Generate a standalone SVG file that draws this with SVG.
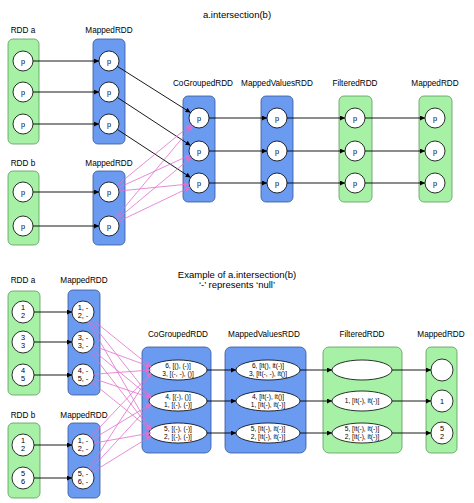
<svg xmlns="http://www.w3.org/2000/svg" width="474" height="503" viewBox="0 0 474 503">
<defs>
<style>
.g{fill:#a6f1a6;stroke:#5c9a5c;stroke-width:0.8}
.b{fill:#6b9bf0;stroke:#36579a;stroke-width:0.8}
.c{fill:#fff;stroke:#000;stroke-width:0.8}
.t{font-family:"Liberation Sans",Arial,sans-serif;fill:#000;text-anchor:middle}
.lb{font-size:8.2px}
.tt{font-size:9.5px}
.p{font-size:7.4px}
.e{font-size:6.6px}
.a{stroke:#000;stroke-width:0.9;fill:none;marker-end:url(#ab)}
.k{stroke:#e070cc;stroke-width:0.8;fill:none;marker-end:url(#ak)}
</style>
<marker id="ab" viewBox="0 0 10 10" refX="10" refY="5" markerWidth="6" markerHeight="5" markerUnits="userSpaceOnUse" orient="auto"><path d="M0,0L10,5L0,10z" fill="#000"/></marker>
<marker id="ak" viewBox="0 0 10 10" refX="10" refY="5" markerWidth="6" markerHeight="5" markerUnits="userSpaceOnUse" orient="auto"><path d="M0,0L10,5L0,10z" fill="#e070cc"/></marker>
</defs>
<rect width="474" height="503" fill="#fff"/>

<text class="t tt" x="237" y="18">a.intersection(b)</text>
<text class="t tt" x="237" y="278">Example of a.intersection(b)</text>
<text class="t tt" x="237" y="288">‘-’ represents ‘null’</text>

<!-- TOP SECTION -->
<g id="top-rdd-a">
<text class="t lb" x="23" y="33">RDD a</text>
<rect class="g" x="8" y="39" width="31" height="105" rx="5"/>
<circle class="c" cx="23" cy="61" r="10"/><text class="t p" x="23" y="63.5">p</text>
<circle class="c" cx="23" cy="92" r="10"/><text class="t p" x="23" y="94.5">p</text>
<circle class="c" cx="23" cy="124" r="10"/><text class="t p" x="23" y="126.5">p</text>
</g>
<g id="top-mapped-a">
<text class="t lb" x="109" y="33">MappedRDD</text>
<rect class="b" x="93" y="39" width="32" height="105" rx="5"/>
<circle class="c" cx="109" cy="61" r="10"/><text class="t p" x="109" y="63.5">p</text>
<circle class="c" cx="109" cy="92" r="10"/><text class="t p" x="109" y="94.5">p</text>
<circle class="c" cx="109" cy="124" r="10"/><text class="t p" x="109" y="126.5">p</text>
</g>
<g id="top-rdd-b">
<text class="t lb" x="23" y="166">RDD b</text>
<rect class="g" x="8" y="171" width="31" height="74" rx="5"/>
<circle class="c" cx="23" cy="192" r="10"/><text class="t p" x="23" y="194.5">p</text>
<circle class="c" cx="23" cy="226" r="10"/><text class="t p" x="23" y="228.5">p</text>
</g>
<g id="top-mapped-b">
<text class="t lb" x="109" y="166">MappedRDD</text>
<rect class="b" x="93" y="171" width="32" height="74" rx="5"/>
<circle class="c" cx="109" cy="192" r="10"/><text class="t p" x="109" y="194.5">p</text>
<circle class="c" cx="109" cy="226" r="10"/><text class="t p" x="109" y="228.5">p</text>
</g>
<g id="top-cogrouped">
<text class="t lb" x="203" y="86">CoGroupedRDD</text>
<rect class="b" x="183" y="96" width="32" height="106" rx="5"/>
<circle class="c" cx="199" cy="118" r="10"/><text class="t p" x="199" y="120.5">p</text>
<circle class="c" cx="199" cy="151" r="10"/><text class="t p" x="199" y="153.5">p</text>
<circle class="c" cx="199" cy="183" r="10"/><text class="t p" x="199" y="185.5">p</text>
</g>
<g id="top-mappedvalues">
<text class="t lb" x="277" y="86">MappedValuesRDD</text>
<rect class="b" x="261" y="96" width="32" height="106" rx="5"/>
<circle class="c" cx="277" cy="118" r="10"/><text class="t p" x="277" y="120.5">p</text>
<circle class="c" cx="277" cy="151" r="10"/><text class="t p" x="277" y="153.5">p</text>
<circle class="c" cx="277" cy="183" r="10"/><text class="t p" x="277" y="185.5">p</text>
</g>
<g id="top-filtered">
<text class="t lb" x="355" y="86">FilteredRDD</text>
<rect class="g" x="339" y="96" width="33" height="106" rx="5"/>
<circle class="c" cx="355" cy="118" r="10"/><text class="t p" x="355" y="120.5">p</text>
<circle class="c" cx="355" cy="151" r="10"/><text class="t p" x="355" y="153.5">p</text>
<circle class="c" cx="355" cy="183" r="10"/><text class="t p" x="355" y="185.5">p</text>
</g>
<g id="top-mapped-out">
<text class="t lb" x="435" y="86">MappedRDD</text>
<rect class="g" x="419" y="96" width="33" height="106" rx="5"/>
<circle class="c" cx="435" cy="118" r="10"/><text class="t p" x="435" y="120.5">p</text>
<circle class="c" cx="435" cy="151" r="10"/><text class="t p" x="435" y="153.5">p</text>
<circle class="c" cx="435" cy="183" r="10"/><text class="t p" x="435" y="185.5">p</text>
</g>

<!-- BOTTOM SECTION -->
<g id="bot-rdd-a">
<text class="t lb" x="23" y="283">RDD a</text>
<rect class="g" x="8" y="291" width="32" height="104" rx="5"/>
<circle class="c" cx="23" cy="312" r="11"/><text class="t p" x="23" y="310">1</text><text class="t p" x="23" y="318">2</text>
<circle class="c" cx="23" cy="342" r="11"/><text class="t p" x="23" y="340">3</text><text class="t p" x="23" y="348">3</text>
<circle class="c" cx="23" cy="375" r="11"/><text class="t p" x="23" y="373">4</text><text class="t p" x="23" y="381">5</text>
</g>
<g id="bot-mapped-a">
<text class="t lb" x="84" y="283">MappedRDD</text>
<rect class="b" x="68" y="290" width="32" height="105" rx="5"/>
<circle class="c" cx="83" cy="312" r="11"/><text class="t p" x="83" y="310">1, -</text><text class="t p" x="83" y="318">2, -</text>
<circle class="c" cx="83" cy="342" r="11"/><text class="t p" x="83" y="340">3, -</text><text class="t p" x="83" y="348">3, -</text>
<circle class="c" cx="83" cy="375" r="11"/><text class="t p" x="83" y="373">4, -</text><text class="t p" x="83" y="381">5, -</text>
</g>
<g id="bot-rdd-b">
<text class="t lb" x="23" y="418">RDD b</text>
<rect class="g" x="8" y="423" width="32" height="75" rx="5"/>
<circle class="c" cx="23" cy="445" r="11"/><text class="t p" x="23" y="443">1</text><text class="t p" x="23" y="451">2</text>
<circle class="c" cx="23" cy="478" r="11"/><text class="t p" x="23" y="476">5</text><text class="t p" x="23" y="484">6</text>
</g>
<g id="bot-mapped-b">
<text class="t lb" x="84" y="418">MappedRDD</text>
<rect class="b" x="68" y="423" width="32" height="75" rx="5"/>
<circle class="c" cx="83" cy="445" r="11"/><text class="t p" x="83" y="443">1, -</text><text class="t p" x="83" y="451">2, -</text>
<circle class="c" cx="83" cy="478" r="11"/><text class="t p" x="83" y="476">5, -</text><text class="t p" x="83" y="484">6, -</text>
</g>
<g id="bot-cogrouped">
<text class="t lb" x="178" y="337">CoGroupedRDD</text>
<rect class="b" x="142" y="347" width="69" height="106" rx="6"/>
<ellipse class="c" cx="178" cy="370" rx="29" ry="10"/><text class="t e" x="178" y="368">6, [(), (-)]</text><text class="t e" x="178" y="375.5">3, [(-, -), ()]</text>
<ellipse class="c" cx="178" cy="401" rx="29" ry="10"/><text class="t e" x="178" y="399">4, [(-), ()]</text><text class="t e" x="178" y="406.5">1, [(-), (-)]</text>
<ellipse class="c" cx="178" cy="433" rx="29" ry="10"/><text class="t e" x="178" y="431">5, [(-), (-)]</text><text class="t e" x="178" y="438.5">2, [(-), (-)]</text>
</g>
<g id="bot-mappedvalues">
<text class="t lb" x="264" y="337">MappedValuesRDD</text>
<rect class="b" x="225" y="347" width="81" height="106" rx="6"/>
<ellipse class="c" cx="268" cy="370" rx="32" ry="10"/><text class="t e" x="268" y="368">6, [it(), it(-)]</text><text class="t e" x="268" y="375.5">3, [it(-, -), it()]</text>
<ellipse class="c" cx="268" cy="401" rx="32" ry="10"/><text class="t e" x="268" y="399">4, [it(-), it()]</text><text class="t e" x="268" y="406.5">1, [it(-), it(-)]</text>
<ellipse class="c" cx="268" cy="433" rx="32" ry="10"/><text class="t e" x="268" y="431">5, [it(-), it(-)]</text><text class="t e" x="268" y="438.5">2, [it(-), it(-)]</text>
</g>
<g id="bot-filtered">
<text class="t lb" x="362" y="337">FilteredRDD</text>
<rect class="g" x="323" y="347" width="79" height="106" rx="6"/>
<ellipse class="c" cx="362" cy="370" rx="30" ry="10"/>
<ellipse class="c" cx="362" cy="401" rx="30" ry="10"/><text class="t e" x="362" y="403.3">1, [it(-), it(-)]</text>
<ellipse class="c" cx="362" cy="433" rx="30" ry="10"/><text class="t e" x="362" y="431">5, [it(-), it(-)]</text><text class="t e" x="362" y="438.5">2, [it(-), it(-)]</text>
</g>
<g id="bot-mapped-out">
<text class="t lb" x="441" y="337">MappedRDD</text>
<rect class="g" x="426" y="347" width="31" height="106" rx="5"/>
<circle class="c" cx="442" cy="370" r="11"/>
<circle class="c" cx="442" cy="401" r="11"/><text class="t p" x="442" y="403.5">1</text>
<circle class="c" cx="442" cy="433" r="11"/><text class="t p" x="442" y="431">5</text><text class="t p" x="442" y="439">2</text>
</g>

<g id="connectors">
<!-- top -->
<line class="a" x1="33" y1="61" x2="99" y2="61"/>
<line class="a" x1="33" y1="92" x2="99" y2="92"/>
<line class="a" x1="33" y1="124" x2="99" y2="124"/>
<line class="a" x1="33" y1="192" x2="99" y2="192"/>
<line class="a" x1="33" y1="226" x2="99" y2="226"/>
<line class="a" x1="117.4" y1="66.4" x2="190.5" y2="112.6"/>
<line class="a" x1="117.4" y1="97.5" x2="190.6" y2="145.5"/>
<line class="a" x1="117.4" y1="129.5" x2="190.6" y2="177.5"/>
<line class="k" x1="116.7" y1="185.6" x2="191.3" y2="124.4"/>
<line class="k" x1="118.1" y1="187.9" x2="189.9" y2="155.1"/>
<line class="k" x1="119" y1="191" x2="189" y2="184"/>
<line class="k" x1="115.4" y1="218.3" x2="192.6" y2="125.7"/>
<line class="k" x1="116.7" y1="219.6" x2="191.3" y2="157.4"/>
<line class="k" x1="118" y1="221.7" x2="190" y2="187.3"/>
<line class="a" x1="209" y1="118" x2="267" y2="118"/>
<line class="a" x1="209" y1="151" x2="267" y2="151"/>
<line class="a" x1="209" y1="183" x2="267" y2="183"/>
<line class="a" x1="287" y1="118" x2="345" y2="118"/>
<line class="a" x1="287" y1="151" x2="345" y2="151"/>
<line class="a" x1="287" y1="183" x2="345" y2="183"/>
<line class="a" x1="365" y1="118" x2="425" y2="118"/>
<line class="a" x1="365" y1="151" x2="425" y2="151"/>
<line class="a" x1="365" y1="183" x2="425" y2="183"/>
<!-- bottom -->
<line class="a" x1="34" y1="312" x2="72" y2="312"/>
<line class="a" x1="34" y1="342" x2="72" y2="342"/>
<line class="a" x1="34" y1="375" x2="72" y2="375"/>
<line class="a" x1="34" y1="445" x2="72" y2="445"/>
<line class="a" x1="34" y1="478" x2="72" y2="478"/>
<line class="k" x1="91.5" y1="318.9" x2="151" y2="367"/>
<line class="k" x1="89.8" y1="320.6" x2="151" y2="398"/>
<line class="k" x1="88.5" y1="321.5" x2="151" y2="430"/>
<line class="k" x1="93.3" y1="345.8" x2="151" y2="367"/>
<line class="k" x1="91.5" y1="349" x2="151" y2="398"/>
<line class="k" x1="89.7" y1="350.7" x2="151" y2="430"/>
<line class="k" x1="94" y1="374.2" x2="151" y2="370"/>
<line class="k" x1="93.4" y1="378.5" x2="151" y2="398"/>
<line class="k" x1="91.5" y1="381.9" x2="151" y2="430"/>
<line class="k" x1="90.6" y1="437" x2="151" y2="373"/>
<line class="k" x1="92.4" y1="439.3" x2="151" y2="404"/>
<line class="k" x1="93.8" y1="443.1" x2="151" y2="433"/>
<line class="k" x1="89" y1="468.8" x2="151" y2="373"/>
<line class="k" x1="90.4" y1="469.9" x2="151" y2="404"/>
<line class="k" x1="92.4" y1="472.2" x2="151" y2="436"/>
<line class="a" x1="207" y1="370" x2="236" y2="370"/>
<line class="a" x1="207" y1="401" x2="236" y2="401"/>
<line class="a" x1="207" y1="433" x2="236" y2="433"/>
<line class="a" x1="300" y1="370" x2="332" y2="370"/>
<line class="a" x1="300" y1="401" x2="332" y2="401"/>
<line class="a" x1="300" y1="433" x2="332" y2="433"/>
<line class="a" x1="392" y1="370" x2="431" y2="370"/>
<line class="a" x1="392" y1="401" x2="431" y2="401"/>
<line class="a" x1="392" y1="433" x2="431" y2="433"/>
</g>
</svg>
